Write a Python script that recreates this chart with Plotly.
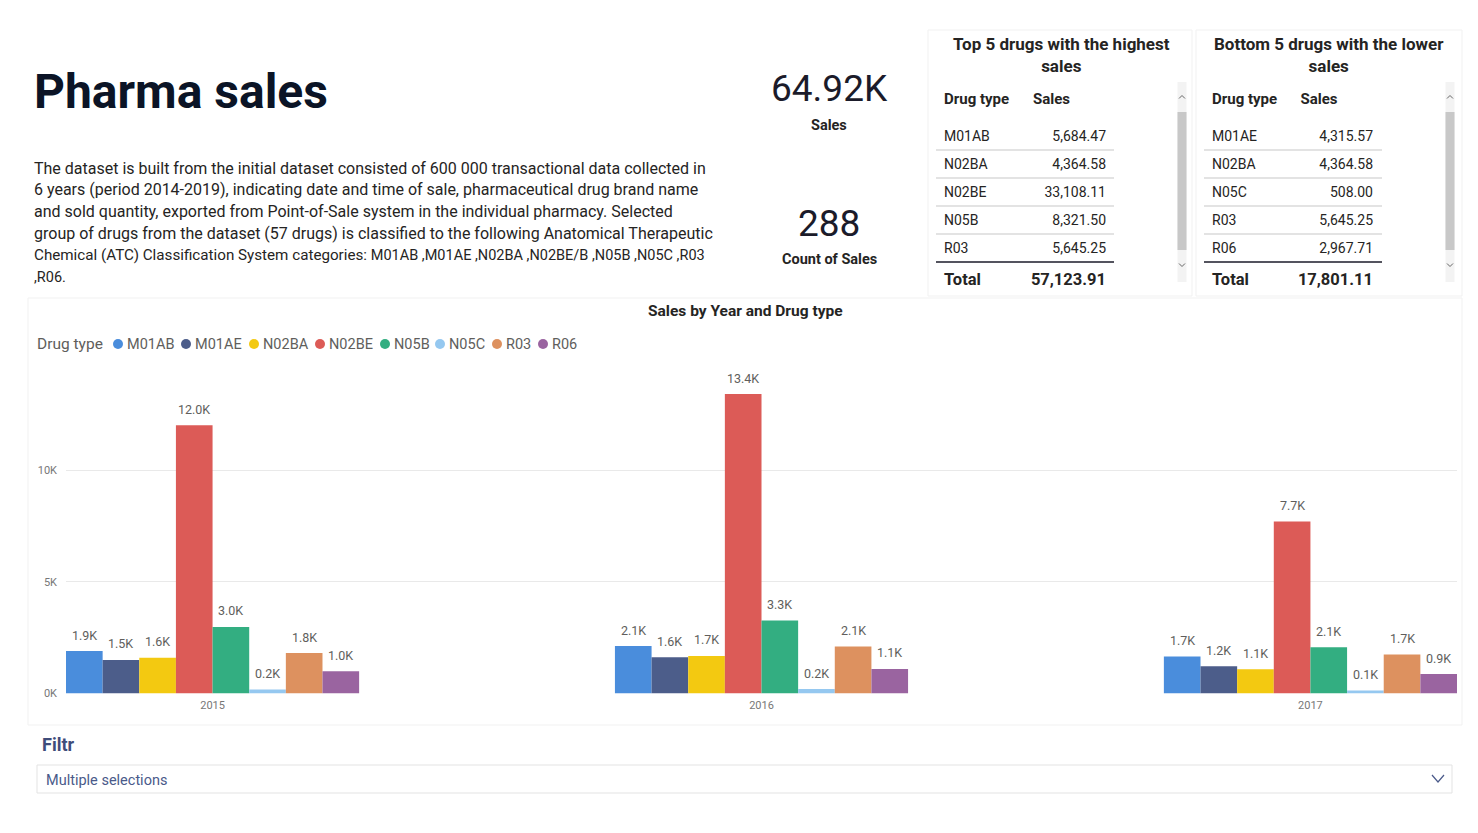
import plotly.graph_objects as go

W, H = 1478, 826  # effective drawing height of the viewport

# ---------------- data ----------------
years = ["2015", "2016", "2017"]
drug_types = ["M01AB", "M01AE", "N02BA", "N02BE", "N05B", "N05C", "R03", "R06"]
drug_colors = ["#4A8DDC", "#4C5D8A", "#F3C911", "#DC5B57", "#33AE81", "#95C8F0", "#DD915F", "#9A64A0"]
# sales in thousands, per year (2015, 2016, 2017)
sales_m01ab = [1.90, 2.12, 1.66]
sales_m01ae = [1.50, 1.62, 1.22]
sales_n02ba = [1.60, 1.68, 1.08]
sales_n02be = [12.00, 13.40, 7.70]
sales_n05b = [2.98, 3.27, 2.07]
sales_n05c = [0.18, 0.20, 0.13]
sales_r03 = [1.81, 2.10, 1.74]
sales_r06 = [1.00, 1.10, 0.87]
series = [sales_m01ab, sales_m01ae, sales_n02ba, sales_n02be,
          sales_n05b, sales_n05c, sales_r03, sales_r06]

kpi_sales = "64.92K"
kpi_count = "288"

top_drugs = ["M01AB", "N02BA", "N02BE", "N05B", "R03"]
top_sales = [5684.47, 4364.58, 33108.11, 8321.50, 5645.25]
bottom_drugs = ["M01AE", "N02BA", "N05C", "R03", "R06"]
bottom_sales = [4315.57, 4364.58, 508.00, 5645.25, 2967.71]

y_ticks = [0, 5, 10]
y_tick_labels = ["0K", "5K", "10K"]

description_lines = [
    "The dataset is built from the initial dataset consisted of 600 000 transactional data collected in",
    "6 years (period 2014-2019), indicating date and time of sale, pharmaceutical drug brand name",
    "and sold quantity, exported from Point-of-Sale system in the individual pharmacy. Selected",
    "group of drugs from the dataset (57 drugs) is classified to the following Anatomical Therapeutic",
    "<span style='font-size:15.2px'>Chemical (ATC) Classification System categories: </span>"
    "<span style='font-size:14.5px'>M01AB ,M01AE ,N02BA ,N02BE/B ,N05B ,N05C ,R03</span>",
    "<span style='font-size:14.5px'>,R06.</span>",
]

# ---------------- helpers ----------------
def px(x):
    return x / W

def py(y):
    return 1 - y / H

FONT = "Roboto, 'Open Sans', sans-serif"
TXT = "#252423"
GRAY = "#605E5C"

fig = go.Figure()

# plot area (pixels)
X0, X1 = 66, 1457
Y0, Y1 = 360, 693.5
pxk = (693.5 - 470) / 10.0
ymax = (Y1 - Y0) / pxk
X_RANGE = [-0.267, 2.267]
BARGAP = 0.466
cat_px = (X1 - X0) / (X_RANGE[1] - X_RANGE[0])
bar_px = cat_px * (1 - BARGAP) / len(drug_types)

shapes = []
ann = []

# bars + data labels
for k, (name, vals, col) in enumerate(zip(drug_types, series, drug_colors)):
    fig.add_trace(go.Bar(
        x=years, y=vals, name=name, marker_color=col, marker_line_width=0,
        showlegend=False, hovertemplate=name + " %{x}: %{y:.2f}K<extra></extra>",
    ))
    for j, v in enumerate(vals):
        ann.append(dict(text=f"{v:.1f}K", x=j, y=v, xref="x", yref="y",
                        xshift=(k - (len(drug_types) - 1) / 2) * bar_px, yshift=16,
                        xanchor="center", yanchor="middle", showarrow=False,
                        font=dict(family=FONT, size=12.5, color=GRAY)))

fig.update_layout(
    autosize=True, margin=dict(l=0, r=0, t=0, b=0),
    paper_bgcolor="white", plot_bgcolor="white",
    barmode="group", bargap=BARGAP, bargroupgap=0,
    font=dict(family=FONT, color=TXT),
    xaxis=dict(domain=[px(X0), px(X1)], type="category", range=X_RANGE,
               showgrid=False, zeroline=False, showline=False, ticks="",
               tickfont=dict(family=FONT, size=11, color="#777777"), ticklabelstandoff=3,
               fixedrange=True),
    yaxis=dict(domain=[py(Y1), py(Y0)], range=[0, ymax], tickmode="array",
               tickvals=y_ticks, ticktext=y_tick_labels,
               showgrid=True, gridcolor="#E9E9E9", gridwidth=1, zeroline=False,
               tickfont=dict(family=FONT, size=11, color="#777777"), ticklabelstandoff=8,
               fixedrange=True),
)

def note(text, x, y, size, color=TXT, xanchor="left", **kw):
    ann.append(dict(text=text, x=px(x), y=py(y), xref="paper", yref="paper",
                    xanchor=xanchor, yanchor="middle", showarrow=False,
                    font=dict(family=FONT, size=size, color=color), **kw))

# panels
for (a, b, c, d) in [(28, 298, 1462, 725), (928, 30, 1192, 296), (1196, 30, 1462, 296)]:
    shapes.append(dict(type="rect", xref="paper", yref="paper", x0=px(a), x1=px(c),
                       y0=py(d), y1=py(b), line=dict(color="#F1F1F1", width=1), layer="below"))

# title
note("<b>Pharma sales</b>", 32, 91, 48, color="#0B1426")

# description
for i, line in enumerate(description_lines):
    note(line, 32, 168 + i * 21.8, 16)

# KPI cards
note(kpi_sales, 829, 88, 37, color="#1B1B2A", xanchor="center")
note("<b>Sales</b>", 829, 125, 14.5, xanchor="center")
note(kpi_count, 829, 224, 37, color="#1B1B2A", xanchor="center")
note("<b>Count of Sales</b>", 829, 259, 14.5, xanchor="center")

# tables
HEAD_H, ROW_H, T_TOP = 40, 28, 82

def add_table(drugs, sales, xl, xr, title, cx, sb_x):
    total = sum(sales)
    n = len(drugs)
    body_bottom = T_TOP + HEAD_H + ROW_H * n
    fig.add_trace(go.Table(
        domain=dict(x=[px(xl), px(xr)], y=[py(body_bottom + 2), py(T_TOP)]),
        columnwidth=[1, 1],
        header=dict(values=["<b>Drug type</b>", "<b>Sales</b>"], align=["left", "left"],
                    height=HEAD_H, fill_color="white", line_color="white",
                    font=dict(family=FONT, size=15, color=TXT)),
        cells=dict(values=[drugs, [f"{v:,.2f}" for v in sales]],
                   align=["left", "right"], height=ROW_H, fill_color="white", line_color="white",
                   font=dict(family=FONT, size=14, color=TXT)),
    ))
    # total row
    fig.add_trace(go.Table(
        domain=dict(x=[px(xl), px(xr)], y=[py(body_bottom + ROW_H + 6), py(body_bottom + 0)]),
        columnwidth=[1, 1],
        header=dict(values=["<b>Total</b>", f"<b>{total:,.2f}</b>"], align=["left", "right"],
                    height=ROW_H, fill_color="white", line_color="white",
                    font=dict(family=FONT, size=16.5, color=TXT)),
        cells=dict(values=[[], []], height=1, fill_color="white", line_color="white"),
    ))
    for i in range(1, n + 1):
        yy = T_TOP + HEAD_H + ROW_H * i
        last = i == n
        shapes.append(dict(type="line", xref="paper", yref="paper", x0=px(xl), x1=px(xr),
                           y0=py(yy), y1=py(yy),
                           line=dict(color="#1B1B2A" if last else "#E3E3E3", width=1.5 if last else 2)))
    note(f"<b>{title}</b>", cx, 55, 17, xanchor="center", align="center")
    # scrollbar
    shapes.append(dict(type="rect", xref="paper", yref="paper", x0=px(sb_x - 4.5), x1=px(sb_x + 4.5),
                       y0=py(282), y1=py(82), line_width=0, fillcolor="#F3F3F3"))
    shapes.append(dict(type="rect", xref="paper", yref="paper", x0=px(sb_x - 4.5), x1=px(sb_x + 4.5),
                       y0=py(250), y1=py(112), line_width=0, fillcolor="#C8C8C8"))
    for yy, d in [(97, -1), (265, 1)]:
        shapes.append(dict(type="path", xref="paper", yref="paper",
                           path=f"M {px(sb_x-3)} {py(yy - d*1.5)} L {px(sb_x)} {py(yy + d*1.5)} L {px(sb_x+3)} {py(yy - d*1.5)}",
                           line=dict(color="#666666", width=1)))

add_table(top_drugs, top_sales, 936, 1114, "Top 5 drugs with the highest<br>sales", 1061, 1182)
add_table(bottom_drugs, bottom_sales, 1204, 1382, "Bottom 5 drugs with the lower<br>sales", 1329, 1450)

# chart title
note("<b>Sales by Year and Drug type</b>", 745, 311, 15.5, xanchor="center")

# legend (custom, circle markers)
legend_cx = [118, 186, 254, 320, 385, 440, 497, 543]
note("Drug type", 35, 344, 15.5, color=GRAY)
for cxp, name, col in zip(legend_cx, drug_types, drug_colors):
    shapes.append(dict(type="circle", xref="paper", yref="paper", x0=px(cxp - 5), x1=px(cxp + 5),
                       y0=py(349), y1=py(339), fillcolor=col, line_width=0))
    note(name, cxp + 7, 344, 14.5, color=GRAY)

# filter slicer
note("<b>Filtr</b>", 40, 744, 18, color="#3F4D7A")
shapes.append(dict(type="rect", xref="paper", yref="paper", x0=px(37), x1=px(1452), y0=py(793), y1=py(765),
                   line=dict(color="#E3E3E3", width=1), fillcolor="white", layer="below"))
note("Multiple selections", 44, 780, 14.5, color="#4A5A8A")
shapes.append(dict(type="path", xref="paper", yref="paper",
                   path=f"M {px(1432)} {py(775)} L {px(1438)} {py(782)} L {px(1444)} {py(775)}",
                   line=dict(color="#4A5A8A", width=1.2)))

fig.update_layout(shapes=shapes, annotations=ann)

fig.write_html(
    "out.html", config={"displayModeBar": False, "responsive": True},
    default_width="100vw", default_height="100vh",
    post_script=("document.documentElement.style.margin='0';document.body.style.margin='0';"
                 "document.body.style.overflow='hidden';"
                 "var gd=document.getElementById('{plot_id}');Plotly.Plots.resize(gd);"),
)
